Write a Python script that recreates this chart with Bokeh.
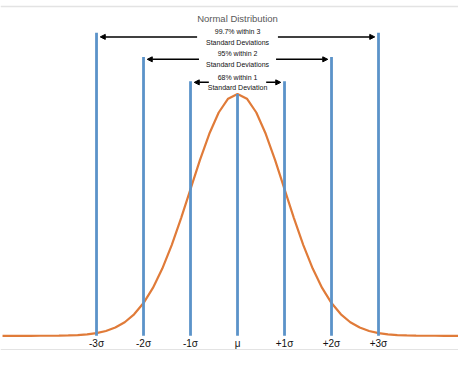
from bokeh.plotting import figure
from bokeh.models import Range1d, Arrow, NormalHead, Span
from bokeh.core.properties import value
from bokeh.embed import file_html
from bokeh.resources import INLINE

# ---- data ----
sigma_pos = [-3, -2, -1, 0, 1, 2, 3]
sigma_labels = ["-3σ", "-2σ", "-1σ", "μ", "+1σ", "+2σ", "+3σ"]
curve_x = [-5.0, -4.8, -4.6, -4.4, -4.2, -4.0, -3.8, -3.6, -3.4, -3.2, -3.0,
           -2.8, -2.6, -2.4, -2.2, -2.0, -1.8, -1.6, -1.4, -1.2, -1.0,
           -0.8, -0.6, -0.4, -0.2, 0.0, 0.2, 0.4, 0.6, 0.8, 1.0,
           1.2, 1.4, 1.6, 1.8, 2.0, 2.2, 2.4, 2.6, 2.8, 3.0,
           3.2, 3.4, 3.6, 3.8, 4.0, 4.2, 4.4, 4.6, 4.8, 5.0]
curve_y = [0.0000, 0.0000, 0.0000, 0.0000, 0.0001, 0.0001, 0.0003, 0.0006, 0.0012, 0.0024, 0.0044,
           0.0079, 0.0136, 0.0224, 0.0355, 0.0540, 0.0790, 0.1109, 0.1497, 0.1942, 0.2420,
           0.2897, 0.3332, 0.3683, 0.3910, 0.3989, 0.3910, 0.3683, 0.3332, 0.2897, 0.2420,
           0.1942, 0.1497, 0.1109, 0.0790, 0.0540, 0.0355, 0.0224, 0.0136, 0.0079, 0.0044,
           0.0024, 0.0012, 0.0006, 0.0003, 0.0001, 0.0001, 0.0000, 0.0000, 0.0000, 0.0000]
band_k = [3, 2, 1]
band_line1 = ["99.7% within 3", "95% within 2", "68% within 1"]
band_line2 = ["Standard Deviations", "Standard Deviations", "Standard Deviation"]
title_text = "Normal Distribution"

# ---- layout (positions in data units) ----
line_tops = [0.500, 0.460, 0.420, 0.3989, 0.420, 0.460, 0.500]
arrow_y = [0.493, 0.456, 0.418]
gap_half = [0.86, 0.82, 0.61]
text_dy = 0.0088

p = figure(width=458, height=350, output_backend="svg", toolbar_location=None,
           x_range=Range1d(-5.043, 4.702), y_range=Range1d(-0.0242, 0.553),
           x_axis_location=None, y_axis_location=None, min_border=0)
p.xgrid.visible = False
p.ygrid.visible = False
p.outline_line_color = None
p.background_fill_color = "white"
p.border_fill_color = "white"

p.add_layout(Span(location=0.5432, dimension="width", line_color="#E3E3E3", line_width=1.5))
p.add_layout(Span(location=-0.0228, dimension="width", line_color="#E3E3E3", line_width=1.5))

p.line(curve_x, curve_y, line_color="#E07B39", line_width=2.2)

p.segment(x0=sigma_pos, y0=[0] * len(sigma_pos), x1=sigma_pos, y1=line_tops,
          line_color="#5B93C9", line_width=2.8)

p.text(x=sigma_pos, y=[-0.0125] * len(sigma_pos), text=sigma_labels,
       text_font=value("Liberation Sans"), text_font_size="10px",
       text_align="center", text_baseline="middle", text_color="#111111")

p.text(x=[0], y=[0.5237], text=[title_text], text_font=value("Liberation Sans"),
       text_font_size="9.5px", text_align="center", text_baseline="middle",
       text_color="#595959")

for k, l1, l2, ay, g in zip(band_k, band_line1, band_line2, arrow_y, gap_half):
    p.text(x=[0], y=[ay + text_dy], text=[l1], text_font=value("Liberation Sans"),
           text_font_size="7px", text_align="center", text_baseline="middle",
           text_color="#111111")
    p.text(x=[0], y=[ay - text_dy], text=[l2], text_font=value("Liberation Sans"),
           text_font_size="7px", text_align="center", text_baseline="middle",
           text_color="#111111")
    for sgn in (-1, 1):
        p.add_layout(Arrow(end=NormalHead(size=5, fill_color="black", line_color="black"),
                           x_start=sgn * g, y_start=ay, x_end=sgn * (k - 0.08), y_end=ay,
                           line_color="black", line_width=1.5))

open("out.html", "w").write(file_html(p, INLINE))
